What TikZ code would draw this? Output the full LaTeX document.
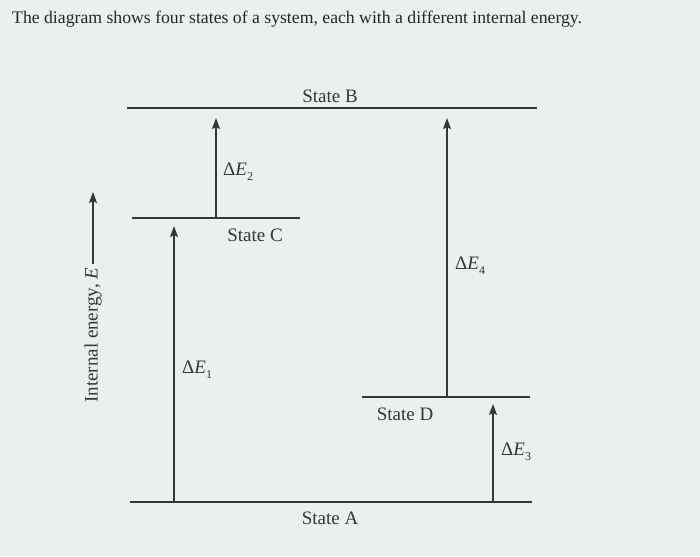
\documentclass[tikz,border=0pt]{standalone}
\usepackage{fontspec}
\setmainfont{Liberation Serif}
\usepackage{xcolor}
\usetikzlibrary{arrows.meta,positioning}
\definecolor{screen}{RGB}{233,240,237}
\definecolor{ink}{RGB}{52,54,56}
\newcommand{\dsub}[1]{\raisebox{-0.55ex}{\fontsize{12}{12}\selectfont #1}}

\begin{document}
\begin{tikzpicture}[x=1pt,y=-1pt,
    level/.style={draw=ink,line width=1.4pt},
    rise/.style={draw=ink,line width=1.3pt,-{Stealth[length=11pt,width=8pt,inset=2pt]}},
    lbl/.style={text=ink,font=\fontsize{19}{22}\selectfont,inner sep=0pt}]
    \fill[screen] (0,0) rectangle (700,556);
    \useasboundingbox (0,0) rectangle (700,556);

    \node[text=black!85,font=\fontsize{17.7}{20}\selectfont,anchor=base west,inner sep=0pt] (title) at (12,24)
        {The diagram shows four states of a system, each with a different internal energy.};

    % energy levels
    \coordinate (bl) at (127,108); \coordinate (br) at (537,108);
    \coordinate (cl) at (132,218); \coordinate (cr) at (300,218);
    \coordinate (dl) at (362,397); \coordinate (dr) at (530,397);
    \coordinate (al) at (130,502); \coordinate (ar) at (532,502);
    \draw[level] (bl) -- (br);
    \draw[level] (cl) -- (cr);
    \draw[level] (dl) -- (dr);
    \draw[level] (al) -- (ar);

    \node[lbl] (sb) at (330,96) {State B};
    \node[lbl] (sc) at (255,235) {State C};
    \node[lbl] (sd) at (405,414) {State D};
    \node[lbl] (sa) at (330,518) {State A};

    % transitions
    \coordinate (e1s) at (174,502); \coordinate (e1t) at (174,226);
    \coordinate (e2s) at (216,218); \coordinate (e2t) at (216,118);
    \coordinate (e4s) at (447,397); \coordinate (e4t) at (447,118);
    \coordinate (e3s) at (493,502); \coordinate (e3t) at (493,404);
    \draw[rise] (e1s) -- (e1t);
    \draw[rise] (e2s) -- (e2t);
    \draw[rise] (e4s) -- (e4t);
    \draw[rise] (e3s) -- (e3t);

    \node[lbl,anchor=west] (d1) at (182,370) {Δ\textit{E}\dsub{1}};
    \node[lbl,anchor=west] (d2) at (223,172) {Δ\textit{E}\dsub{2}};
    \node[lbl,anchor=west] (d4) at (455,266) {Δ\textit{E}\dsub{4}};
    \node[lbl,anchor=west] (d3) at (501,452) {Δ\textit{E}\dsub{3}};

    % axis
    \node[lbl,rotate=90,anchor=west] (axis) at (93,403) {Internal energy, \textit{E}};
    \coordinate (top) at (93,192);
    \draw[rise,line width=1.1pt] ([yshift=4pt]axis.east) -- (top);
\end{tikzpicture}
\end{document}
